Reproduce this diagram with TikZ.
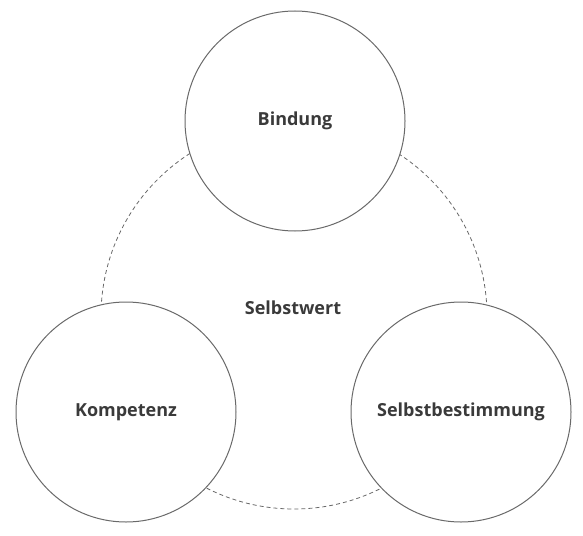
\documentclass[tikz,border=0pt]{standalone}
\usepackage{fontspec}
\setmainfont{Open Sans}
\usepackage{tikz}
\definecolor{ink}{RGB}{58,58,58}
\definecolor{rim}{RGB}{105,105,105}

\begin{document}
\begin{tikzpicture}[x=1pt, y=-1pt, font=\bfseries\fontsize{18}{21}\selectfont, text=ink]
  \useasboundingbox (0,0) rectangle (583,535);
  % dashed ring behind the three needs
  \node[draw=rim, dashed, dash pattern=on 4pt off 3pt, line width=0.8pt, circle, minimum size=386pt, inner sep=0pt] (ring) at (294,316) {};
  \node (wert) at (293,308) {Selbstwert};
  \node[draw=rim, line width=1pt, fill=white, circle, minimum size=220pt, inner sep=0pt] (bind) at (295,121) {Bindung};
  \node[draw=rim, line width=1pt, fill=white, circle, minimum size=220pt, inner sep=0pt] (komp) at (126,412) {Kompetenz};
  \node[draw=rim, line width=1pt, fill=white, circle, minimum size=220pt, inner sep=0pt] (best) at (461,412) {Selbstbestimmung};
\end{tikzpicture}
\end{document}
